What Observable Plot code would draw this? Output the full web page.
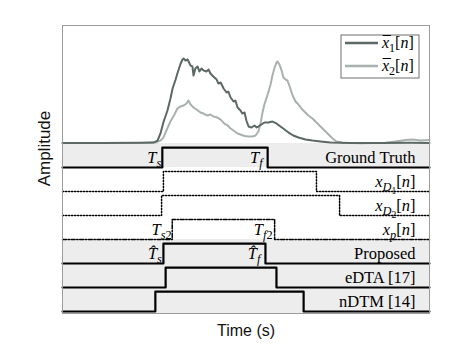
<!DOCTYPE html>
<html><head><meta charset="utf-8">
<script src="https://cdn.jsdelivr.net/npm/d3@7"></script>
<script src="https://cdn.jsdelivr.net/npm/@observablehq/plot@0.6"></script>
<style>body{margin:0;background:#fff;overflow:hidden}svg{display:block}</style>
</head><body><div id="chart"></div>
<script>
const x1Signal = [[0,0.004],[1.04,0.004],[2.13,0.006],[2.48,0.008],[2.59,0.025],[2.67,0.085],[2.75,0.18],[2.86,0.28],[2.94,0.38],[3.00,0.466],[3.08,0.54],[3.13,0.593],[3.22,0.678],[3.27,0.712],[3.30,0.72],[3.35,0.703],[3.41,0.712],[3.49,0.66],[3.54,0.653],[3.57,0.576],[3.62,0.636],[3.68,0.653],[3.73,0.61],[3.79,0.636],[3.84,0.62],[3.92,0.61],[3.98,0.627],[4.03,0.593],[4.11,0.568],[4.20,0.542],[4.25,0.508],[4.31,0.517],[4.39,0.466],[4.47,0.432],[4.52,0.44],[4.58,0.39],[4.66,0.356],[4.71,0.364],[4.77,0.305],[4.85,0.28],[4.90,0.254],[4.96,0.263],[5.01,0.195],[5.07,0.144],[5.15,0.136],[5.23,0.153],[5.29,0.136],[5.34,0.144],[5.42,0.161],[5.50,0.178],[5.61,0.178],[5.72,0.186],[5.83,0.17],[5.94,0.144],[6.05,0.119],[6.16,0.093],[6.29,0.068],[6.43,0.051],[6.62,0.034],[6.81,0.025],[7.03,0.017],[7.30,0.008],[7.85,0.004],[8.66,0.004],[9.48,0.006],[10,0.004]];
const x2Signal = [[0,0.004],[2.13,0.005],[2.53,0.008],[2.67,0.025],[2.75,0.05],[2.83,0.11],[2.94,0.186],[3.05,0.246],[3.13,0.297],[3.22,0.314],[3.30,0.322],[3.38,0.339],[3.43,0.364],[3.49,0.33],[3.57,0.305],[3.65,0.288],[3.76,0.263],[3.84,0.254],[3.95,0.237],[4.03,0.246],[4.11,0.229],[4.22,0.22],[4.31,0.203],[4.41,0.169],[4.50,0.153],[4.58,0.127],[4.66,0.11],[4.77,0.085],[4.85,0.076],[4.96,0.064],[5.07,0.059],[5.18,0.059],[5.26,0.068],[5.34,0.102],[5.40,0.178],[5.45,0.263],[5.50,0.33],[5.59,0.415],[5.67,0.50],[5.72,0.576],[5.78,0.644],[5.83,0.686],[5.86,0.695],[5.91,0.669],[5.97,0.619],[6.02,0.559],[6.08,0.542],[6.13,0.534],[6.19,0.483],[6.27,0.407],[6.35,0.356],[6.43,0.33],[6.51,0.297],[6.59,0.271],[6.70,0.237],[6.81,0.212],[6.92,0.178],[7.03,0.144],[7.14,0.11],[7.25,0.076],[7.36,0.042],[7.47,0.017],[7.63,0.006],[8.12,0.003],[8.80,0.007],[9.07,0.017],[9.35,0.03],[9.54,0.034],[9.75,0.025],[10,0.03]];
const legendLabels = ["\\bar{x}_1[n]", "\\bar{x}_2[n]"];
const rowLabels = ["Ground Truth", "x_{D_1}[n]", "x_{D_2}[n]", "x_p[n]", "Proposed", "eDTA [17]", "nDTM [14]"];
const onsets  = [2.72, 2.75, 2.70, 2.99, 2.75, 2.81, 2.53];
const offsets = [5.59, 6.92, 7.55, 5.78, 5.53, 5.83, 6.57];
const markerLabels = ["T_s", "T_f", "T_{s2}", "T_{f2}", "\\hat{T}_s", "\\hat{T}_f"];
const markerRows   = [0, 0, 3, 3, 4, 4];
const markerEdges  = ["on", "off", "on", "off", "on", "off"];
const timeDomain = [0, 10];
const axisTitles = ["Amplitude", "Time (s)"];

const W = 474, H = 353, MT = 25, MB = 40, ML = 62, MR = 45;
const TOP = 4.917, BOTTOM = -7.083;
const rowLow = k => -(k + 1);
const rowHigh = k => -(k + 1) + 0.83;
const shaded = k => k === 0 || k >= 4;
const dark = "#5c6865", light = "#a9b1af";
const serif = "Liberation Serif";
const FS = 16.5;
const markerDx = [-1, -5, -0.5, -2, -1.5, -5];
const rowIdx = rowLabels.map((_, k) => k);
const stepPts = k => [[timeDomain[0], rowLow(k)], [onsets[k], rowLow(k)], [onsets[k], rowHigh(k)],
  [offsets[k], rowHigh(k)], [offsets[k], rowLow(k)], [timeDomain[1], rowLow(k)]];
const rowStyle = k => k === 1 || k === 2 ? {strokeWidth: 1.5, strokeDasharray: "1.3,1.7"}
  : k === 3 ? {strokeWidth: 1.5, strokeDasharray: "4,1.6,1.4,1.6"}
  : {strokeWidth: 2.2};

const marks = [
  Plot.rect(rowIdx.filter(shaded), {x1: timeDomain[0], x2: timeDomain[1], y1: k => -k, y2: k => k === 6 ? BOTTOM : -(k + 1), fill: "#ededed"}),
  Plot.line(x2Signal, {x: d => d[0], y: d => d[1] * TOP, stroke: light, strokeWidth: 2}),
  Plot.line(x1Signal, {x: d => d[0], y: d => d[1] * TOP, stroke: dark, strokeWidth: 2}),
  ...rowIdx.map(k => Plot.line(stepPts(k), {x: d => d[0], y: d => d[1], stroke: "black", ...rowStyle(k)})),
  Plot.text(rowIdx, {x: timeDomain[1], y: k => rowLow(k) + 0.17, text: k => rowLabels[k], textAnchor: "end", lineAnchor: "bottom", dx: -14, fontFamily: serif, fontSize: FS, fill: "black"}),
  ...markerLabels.map((lab, i) => Plot.text([lab], {
    x: () => markerEdges[i] === "on" ? onsets[markerRows[i]] : offsets[markerRows[i]],
    y: () => rowLow(markerRows[i]) + 0.17, text: d => d, dx: markerDx[i],
    textAnchor: "end", lineAnchor: "bottom", fontFamily: serif, fontSize: FS, fill: "black"})),
  Plot.frame({stroke: "#9c9c9c"}),
  Plot.text([axisTitles[0]], {text: d => d, x: timeDomain[0], y: -0.21, rotate: -90, dx: -18, fontFamily: "Liberation Sans", fontSize: 17, fill: "#111"}),
  Plot.text([axisTitles[1]], {text: d => d, frameAnchor: "bottom", dy: 22.5, fontFamily: "Liberation Sans", fontSize: 16, fill: "#111"})
];

const plot = Plot.plot({
  width: W, height: H, marginTop: MT, marginBottom: MB, marginLeft: ML, marginRight: MR,
  x: {domain: timeDomain, axis: null},
  y: {domain: [BOTTOM, TOP], axis: null},
  marks
});
document.getElementById("chart").appendChild(plot);

// ---- TeX-lite rich text ----
function parseTex(s, level = 0, out = []) {
  let i = 0;
  const group = () => {
    if (s[i] === "{") {
      let depth = 1, j = i + 1;
      while (depth) { if (s[j] === "{") depth++; else if (s[j] === "}") depth--; j++; }
      const g = s.slice(i + 1, j - 1); i = j; return g;
    }
    return s[i++];
  };
  while (i < s.length) {
    const c = s[i];
    if (c === "_") { i++; parseTex(group(), level + 1, out); }
    else if (c === "\\") {
      let j = i + 1; while (/[a-z]/i.test(s[j])) j++;
      const cmd = s.slice(i + 1, j); i = j;
      const g = group();
      if (cmd === "bar") {
        out.push({t: g, it: true, lv: level});
        out.push({t: "\u00AF", it: false, lv: level, bar: true});
      } else out.push({t: g + "\u0302", it: true, lv: level});
    } else { out.push({t: c, it: /[A-Za-z]/.test(c), lv: level}); i++; }
  }
  return out;
}
function renderTex(el, base) {
  const segs = parseTex(el.textContent);
  const size = [1, 0.75, 0.58], shift = [0, 4, 6.5];
  el.textContent = "";
  let cur = 0, prev = null, pendingDx = 0;
  for (const s of segs) {
    const ts = document.createElementNS("http://www.w3.org/2000/svg", "tspan");
    ts.textContent = s.t;
    ts.setAttribute("font-size", base * size[s.lv]);
    if (s.it) ts.setAttribute("font-style", "italic");
    const d = shift[s.lv] - cur;
    if (d) ts.setAttribute("dy", d);
    cur = shift[s.lv];
    el.appendChild(ts);
    if (pendingDx) { ts.setAttribute("dx", pendingDx); pendingDx = 0; }
    if (s.bar && prev) {
      const wX = prev.getComputedTextLength(), wM = ts.getComputedTextLength();
      const slant = 0.07 * base;
      ts.setAttribute("dx", -wX / 2 + slant - wM / 2);
      pendingDx = wX / 2 - slant - wM / 2;
    }
    prev = ts;
  }
}
d3.select(plot).selectAll("text").each(function () {
  const t = this.textContent;
  if (t.includes("_") || t.includes("\\")) renderTex(this, FS);
});

// ---- legend ----
const svg = d3.select(plot);
const xR = W - MR, yT = MT;
const lg = svg.append("g").attr("text-anchor", "start");
lg.append("rect").attr("x", xR - 88).attr("y", yT + 10).attr("width", 78).attr("height", 43)
  .attr("fill", "white").attr("stroke", "#6e6e6e").attr("stroke-width", 1);
[[legendLabels[0], dark, 18], [legendLabels[1], light, 41]].forEach(([lab, col, dy]) => {
  lg.append("line").attr("x1", xR - 84).attr("x2", xR - 51).attr("y1", yT + dy).attr("y2", yT + dy)
    .attr("stroke", col).attr("stroke-width", 2.4);
  const t = lg.append("text").attr("x", xR - 47).attr("y", yT + dy + 5)
    .attr("font-family", serif).attr("font-size", 16).attr("fill", "black").text(lab);
  renderTex(t.node(), 16);
});
</script>
</body></html>
